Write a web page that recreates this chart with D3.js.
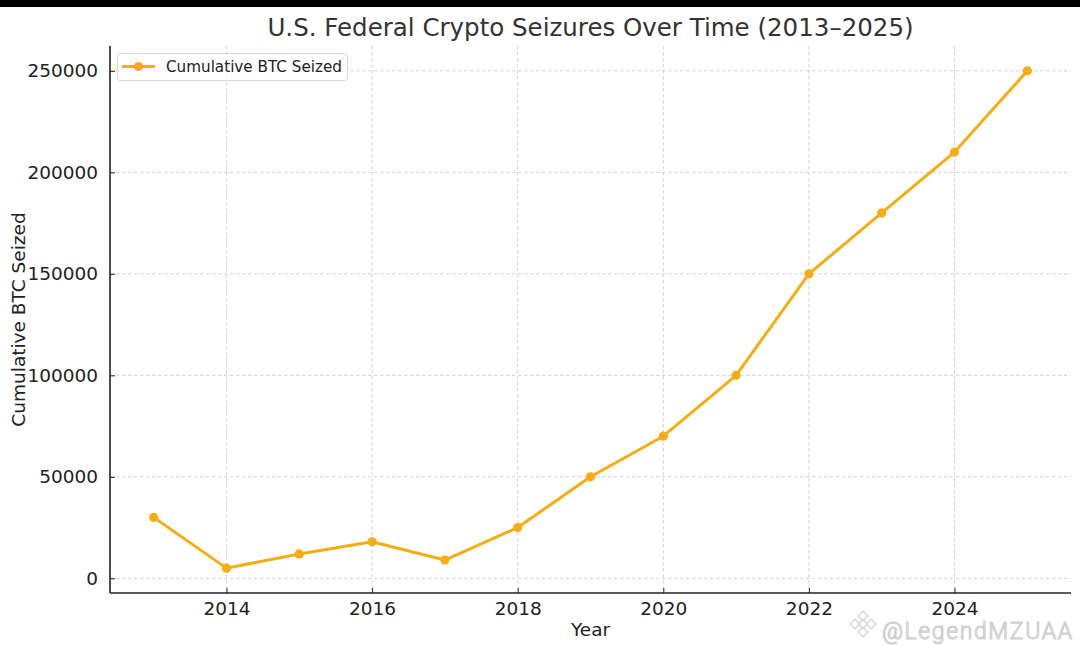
<!DOCTYPE html>
<html><head><meta charset="utf-8">
<script src="https://cdn.jsdelivr.net/npm/d3@7"></script>
<style>
html,body{margin:0;padding:0;background:#fff;}
svg{display:block;font-family:"DejaVu Sans",sans-serif;}
</style></head>
<body>
<svg id="chart" width="1080" height="646"></svg>
<script>
const years = [2013,2014,2015,2016,2017,2018,2019,2020,2021,2022,2023,2024,2025];
const btcSeized = [30000,5000,12000,18000,9000,25000,50000,70000,100000,150000,180000,210000,250000];
const xTicks = [2014,2016,2018,2020,2022,2024];
const yTicks = [0,50000,100000,150000,200000,250000];
const seriesName = "Cumulative BTC Seized";
const titleText = "U.S. Federal Crypto Seizures Over Time (2013–2025)";

const W = 1080, H = 646;
const m = {left:110, right:1071, top:46, bottom:593};
const color = "#f5ad12";
const svg = d3.select("#chart");

// top black band
svg.append("rect").attr("x",0).attr("y",0).attr("width",W).attr("height",7).attr("fill","#000");

const x = d3.scaleLinear().domain([2012.4, 2025.6]).range([m.left, m.right]);
const y = d3.scaleLinear().domain([-7250, 262250]).range([m.bottom, m.top]);

// grid
const grid = svg.append("g");
grid.selectAll(".gx").data(xTicks).join("line")
  .attr("x1",d=>x(d)).attr("x2",d=>x(d)).attr("y1",m.top).attr("y2",m.bottom)
  .attr("stroke","#c8c8c8").attr("stroke-width",0.8).attr("stroke-dasharray","3.5,2.5");
grid.selectAll(".gy").data(yTicks).join("line")
  .attr("x1",m.left).attr("x2",m.right).attr("y1",d=>y(d)).attr("y2",d=>y(d))
  .attr("stroke","#c8c8c8").attr("stroke-width",0.8).attr("stroke-dasharray","3.5,2.5");

// axes
const xAxis = d3.axisBottom(x).tickValues(xTicks).tickFormat(d3.format("d")).tickSizeInner(-5).tickSizeOuter(0).tickPadding(9);
const yAxis = d3.axisLeft(y).tickValues(yTicks).tickFormat(d3.format("d")).tickSizeInner(-5).tickSizeOuter(0).tickPadding(12);
const gx = svg.append("g").attr("transform",`translate(0,${m.bottom})`).call(xAxis);
const gy = svg.append("g").attr("transform",`translate(${m.left},0)`).call(yAxis);
[gx,gy].forEach(g=>{
  g.attr("font-size",null).attr("font-family",null);
  g.select(".domain").attr("stroke","#222").attr("stroke-width",1.6);
  g.selectAll(".tick line").attr("stroke","#222").attr("stroke-width",1);
  g.selectAll(".tick text").attr("fill","#222").style("font-size","18.5px").style("font-family","DejaVu Sans");
});
gx.select(".domain").attr("d",`M${m.left},0H${m.right}`);
gy.select(".domain").attr("d",`M0,${m.bottom}V${m.top}`);

// line + markers
const line = d3.line().x((d,i)=>x(years[i])).y(d=>y(d));
svg.append("path").datum(btcSeized).attr("d",line)
  .attr("fill","none").attr("stroke",color).attr("stroke-width",3).attr("stroke-linejoin","round");
svg.selectAll(".pt").data(btcSeized).join("circle")
  .attr("cx",(d,i)=>x(years[i])).attr("cy",d=>y(d)).attr("r",4.6).attr("fill",color);

// title & labels
svg.append("text").attr("x",(m.left+m.right)/2).attr("y",36).attr("text-anchor","middle")
  .style("font-size","24.5px").attr("fill","#333").text(titleText);
svg.append("text").attr("x",(m.left+m.right)/2).attr("y",636).attr("text-anchor","middle")
  .style("font-size","18.5px").attr("fill","#222").text("Year");
svg.append("text").attr("transform",`translate(25,${(m.top+m.bottom)/2}) rotate(-90)`).attr("text-anchor","middle")
  .style("font-size","18.5px").attr("fill","#222").text("Cumulative BTC Seized");

// legend
const lg = svg.append("g");
lg.append("rect").attr("x",117.5).attr("y",53.5).attr("width",230).attr("height",27).attr("rx",3)
  .attr("fill","#fff").attr("fill-opacity",0.8).attr("stroke","#d6d6d6").attr("stroke-width",1);
lg.append("line").attr("x1",122).attr("x2",155).attr("y1",66.5).attr("y2",66.5).attr("stroke",color).attr("stroke-width",3);
lg.append("circle").attr("cx",138.5).attr("cy",66.5).attr("r",4.6).attr("fill",color);
lg.append("text").attr("x",166).attr("y",72).style("font-size","15.2px").attr("fill","#222").text(seriesName);

// watermark
const wm = svg.append("g");
const lx = 863, ly = 624;
[[0,-8],[-8,0],[8,0],[0,8]].forEach(([dx,dy])=>{
  wm.append("rect").attr("x",-3.4).attr("y",-3.4).attr("width",6.8).attr("height",6.8)
    .attr("transform",`translate(${lx+dx},${ly+dy}) rotate(45)`)
    .attr("fill","#fff").attr("stroke","#d6d6d6").attr("stroke-width",1.4);
});
wm.append("rect").attr("x",-3).attr("y",-3).attr("width",6).attr("height",6)
  .attr("transform",`translate(${lx},${ly}) rotate(45)`).attr("fill","#fff").attr("stroke","#d6d6d6").attr("stroke-width",1.4);
wm.append("text").attr("x",882).attr("y",639).style("font-size","23px").style("font-family","Roboto, sans-serif")
  .attr("font-weight",300).attr("textLength",190).attr("lengthAdjust","spacing")
  .attr("fill","#fff").attr("stroke","#cfcfcf").attr("stroke-width",1.1).text("@LegendMZUAA");
</script>
</body></html>
